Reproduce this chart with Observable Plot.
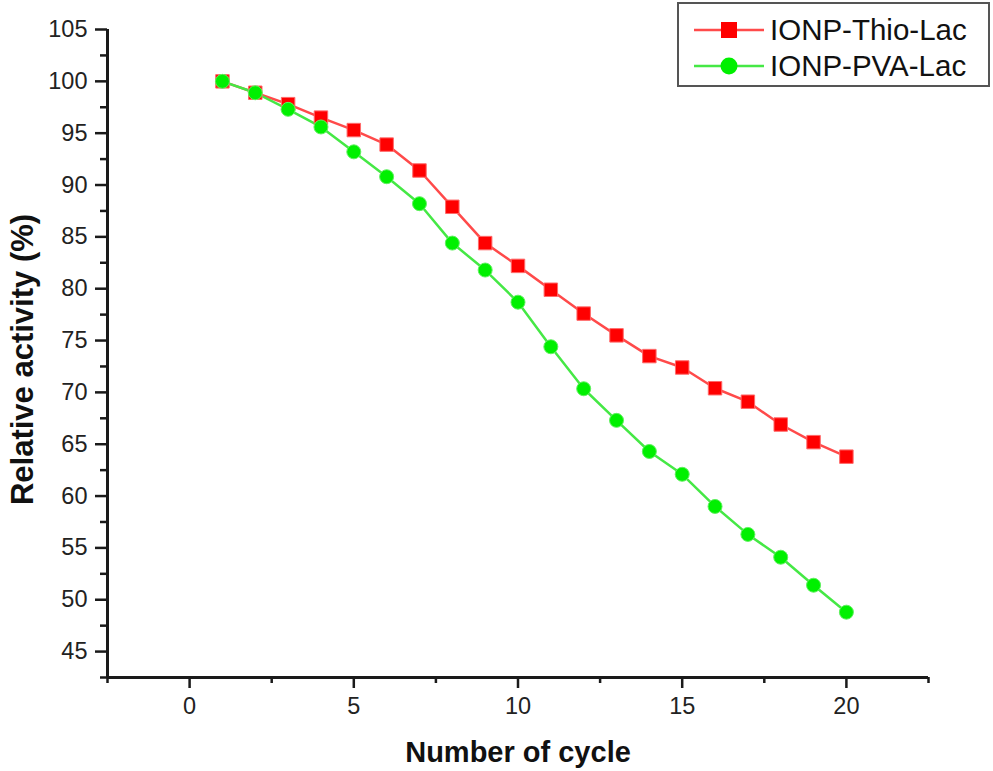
<!DOCTYPE html>
<html>
<head>
<meta charset="utf-8">
<script src="https://cdn.jsdelivr.net/npm/d3@7"></script>
<script src="https://cdn.jsdelivr.net/npm/@observablehq/plot@0.6"></script>
<style>
  html, body { margin: 0; padding: 0; background: #fff; }
  #wrap { position: relative; width: 993px; height: 771px; font-family: "Liberation Sans", Arial, sans-serif; }
  #legend { position: absolute; left: 677px; top: 2px; width: 309px; height: 81px; border: 2px solid #555; background: #fff; box-sizing: content-box; }
  .row { position: absolute; left: 0; height: 34px; display: flex; align-items: center; }
  .row span { font-size: 29.5px; color: #111; margin-left: 6px; }
</style>
</head>
<body>
<div id="wrap"></div>
<script>
const cycles = [1,2,3,4,5,6,7,8,9,10,11,12,13,14,15,16,17,18,19,20];
const thioLac = [100,98.9,97.8,96.5,95.3,93.9,91.4,87.9,84.4,82.2,79.9,77.6,75.5,73.5,72.4,70.4,69.1,66.9,65.2,63.8];
const pvaLac  = [100,98.9,97.3,95.6,93.2,90.8,88.2,84.4,81.8,78.7,74.4,70.35,67.3,64.3,62.1,59.0,56.3,54.1,51.4,48.8];
const seriesNames = ["IONP-Thio-Lac", "IONP-PVA-Lac"];
const xMajor = [0,5,10,15,20];
const xMinor = [-2.5,2.5,7.5,12.5,17.5,22.5];
const yMajor = [45,50,55,60,65,70,75,80,85,90,95,100,105];
const yMinor = [42.5,47.5,52.5,57.5,62.5,67.5,72.5,77.5,82.5,87.5,92.5,97.5,102.5];
const xTitle = "Number of cycle";
const yTitle = "Relative activity (%)";

const thio = cycles.map((c, i) => ({cycle: c, value: thioLac[i]}));
const pva = cycles.map((c, i) => ({cycle: c, value: pvaLac[i]}));

const axisColor = "#1a1a1a";
const chart = Plot.plot({
  width: 993, height: 771,
  marginLeft: 107, marginRight: 65, marginTop: 29, marginBottom: 94,
  style: {fontFamily: "'Liberation Sans', Arial, sans-serif", background: "white", overflow: "visible", color: axisColor},
  x: {domain: [-2.5, 22.5]},
  y: {domain: [42.5, 105]},
  marks: [
    Plot.axisX(xMinor, {tickSize: 6, strokeWidth: 2.5, tickFormat: () => "", label: null}),
    Plot.axisX(xMajor, {tickSize: 11, tickPadding: 9, strokeWidth: 2.5, fontSize: 23.5, label: null, fill: "#222"}),
    Plot.axisY(yMinor, {tickSize: 7, strokeWidth: 2.5, tickFormat: () => "", label: null}),
    Plot.axisY(yMajor, {tickSize: 12, tickPadding: 8, strokeWidth: 2.5, fontSize: 23.5, label: null, fill: "#222"}),
    Plot.ruleY([42.5], {stroke: axisColor, strokeWidth: 3}),
    Plot.ruleX([-2.5], {stroke: axisColor, strokeWidth: 3}),
    Plot.line(thio, {x: "cycle", y: "value", stroke: "#ff4a4a", strokeWidth: 2.5}),
    Plot.line(pva, {x: "cycle", y: "value", stroke: "#45e845", strokeWidth: 2.5}),
    Plot.dot(thio, {x: "cycle", y: "value", symbol: "square", r: 7.6, fill: "#ff0000", stroke: "#ff6a6a", strokeWidth: 1}),
    Plot.dot(pva, {x: "cycle", y: "value", symbol: "circle", r: 7, fill: "#00f000", stroke: "#60f060", strokeWidth: 1}),
    Plot.text([xTitle], {frameAnchor: "bottom", dy: 75, lineAnchor: "middle", fontSize: 29, fontWeight: "bold", fill: "#111"}),
    Plot.text([yTitle], {frameAnchor: "left", dx: -84, dy: 6, rotate: -90, lineAnchor: "middle", textAnchor: "middle", fontSize: 31, fontWeight: "bold", fill: "#111"})
  ]
});

const wrap = document.getElementById("wrap");
wrap.appendChild(chart);

// Legend
const legend = document.createElement("div");
legend.id = "legend";
const styles = [
  {name: seriesNames[0], line: "#ff4a4a", fill: "#ff0000", shape: "square"},
  {name: seriesNames[1], line: "#45e845", fill: "#00f000", shape: "circle"}
];
styles.forEach((s, i) => {
  const row = document.createElement("div");
  row.className = "row";
  row.style.top = (i === 0 ? 9 : 45) + "px";
  row.style.left = "15px";
  const ns = "http://www.w3.org/2000/svg";
  const svg = document.createElementNS(ns, "svg");
  svg.setAttribute("width", 70); svg.setAttribute("height", 34);
  const ln = document.createElementNS(ns, "line");
  ln.setAttribute("x1", 0); ln.setAttribute("x2", 70); ln.setAttribute("y1", 17); ln.setAttribute("y2", 17);
  ln.setAttribute("stroke", s.line); ln.setAttribute("stroke-width", 2.5);
  svg.appendChild(ln);
  let m;
  if (s.shape === "square") {
    m = document.createElementNS(ns, "rect");
    m.setAttribute("x", 35 - 8); m.setAttribute("y", 17 - 8); m.setAttribute("width", 16); m.setAttribute("height", 16);
  } else {
    m = document.createElementNS(ns, "circle");
    m.setAttribute("cx", 35); m.setAttribute("cy", 17); m.setAttribute("r", 8.5);
  }
  m.setAttribute("fill", s.fill);
  svg.appendChild(m);
  row.appendChild(svg);
  const t = document.createElement("span");
  t.textContent = s.name;
  row.appendChild(t);
  legend.appendChild(row);
});
wrap.appendChild(legend);
</script>
</body>
</html>
